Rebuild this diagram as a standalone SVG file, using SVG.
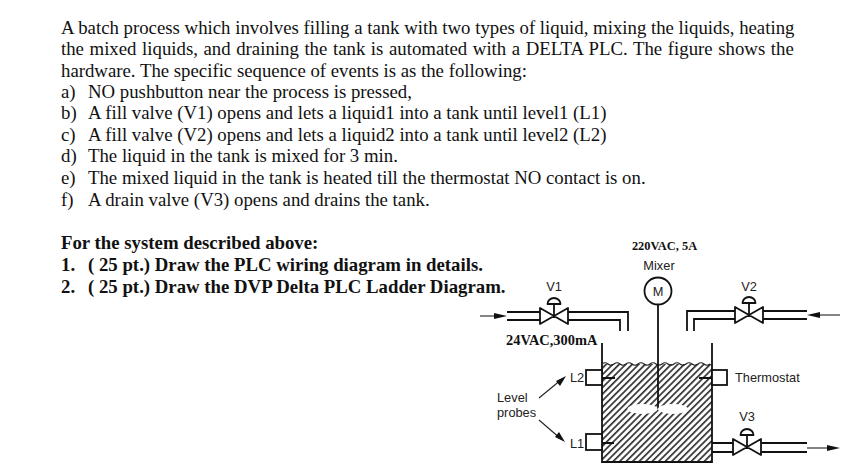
<svg xmlns="http://www.w3.org/2000/svg" width="865" height="470" viewBox="0 0 865 470">
<style>
.t{font:18.8px "Liberation Serif","Times New Roman",serif;fill:#111}
.b{font:bold 18.8px "Liberation Serif","Times New Roman",serif;fill:#111}
.sb{font:bold 12.4px "Liberation Serif","Times New Roman",serif;fill:#111}
.sc{font:bold 14.4px "Liberation Serif","Times New Roman",serif;fill:#111}
.s{font:12.8px "Liberation Sans",Arial,sans-serif;fill:#222}
.l{fill:none;stroke:#111;stroke-width:1.8}
.v{fill:#fff;stroke:#111;stroke-width:1.8;stroke-linejoin:round}
.a{fill:none;stroke:#222;stroke-width:1.1}
.h{fill:#111}
</style>
<defs>
<pattern id="hatch" width="4.600" height="4.600" patternUnits="userSpaceOnUse" patternTransform="rotate(-45)">
<rect width="4.600" height="4.600" fill="#fff"/>
<rect width="4.600" height="1.700" fill="#333"/>
</pattern>
<g id="valve">
<path class="v" d="M-14-8L0 0L-14 8ZM14-8L0 0L14 8Z"/>
<path class="l" d="M0 0V-12"/>
<path class="v" d="M-6.500-12a6.500 6 0 0 1 13 0Z"/>
</g>
</defs>
<g id="question">
<text class="t" x="61" y="34">A batch process which involves filling a tank with two types of liquid, mixing the liquids, heating</text>
<text class="t" x="61" y="55" word-spacing="0.9">the mixed liquids, and draining the tank is automated with a DELTA PLC. The figure shows the</text>
<text class="t" x="61" y="77">hardware. The specific sequence of events is as the following:</text>
<text class="t" x="61" y="98">a)</text><text class="t" x="88" y="98">NO pushbutton near the process is pressed,</text>
<text class="t" x="61" y="119">b)</text><text class="t" x="88" y="119">A fill valve (V1) opens and lets a liquid1 into a tank until level1 (L1)</text>
<text class="t" x="61" y="141">c)</text><text class="t" x="88" y="141">A fill valve (V2) opens and lets a liquid2 into a tank until level2 (L2)</text>
<text class="t" x="61" y="162">d)</text><text class="t" x="88" y="162">The liquid in the tank is mixed for 3 min.</text>
<text class="t" x="61" y="184">e)</text><text class="t" x="88" y="184">The mixed liquid in the tank is heated till the thermostat NO contact is on.</text>
<text class="t" x="61" y="206">f)</text><text class="t" x="88" y="206">A drain valve (V3) opens and drains the tank.</text>
<text class="b" x="61" y="249">For the system described above:</text>
<text class="b" x="61" y="271">1.</text><text class="b" x="88" y="271">( 25 pt.) Draw the PLC wiring diagram in details.</text>
<text class="b" x="61" y="293">2.</text><text class="b" x="88" y="293">( 25 pt.) Draw the DVP Delta PLC Ladder Diagram.</text>
</g>
<g id="tank">
<path d="M602 364H712V461H602Z" fill="url(#hatch)"/>
<path class="l" d="M602 343V462H712V343" stroke-width="2"/>
<path d="M602 364q3-2.500 6 0t6 0t6 0t6 0t6 0t6 0t6 0t6 0t6 0t6 0t6 0t6 0t6 0t6 0t6 0t6 0t6 0t6 0" fill="none" stroke="#222" stroke-width="1.200"/>
<path class="l" d="M602 378H615M602 443H614M699 378H712" stroke-width="1.200"/>
</g>
<g id="mixer">
<circle cx="658" cy="291" r="13.500" fill="#fff" stroke="#111" stroke-width="1.800"/>
<text class="s" x="658" y="295.500" text-anchor="middle">M</text>
<path class="l" d="M658 305V409"/>
<ellipse cx="642.500" cy="409" rx="15" ry="5" fill="#fff"/>
<ellipse cx="673" cy="409" rx="15" ry="5" fill="#fff"/>
<text class="sb" x="664.500" y="250" text-anchor="middle">220VAC, 5A</text>
<text class="s" x="659" y="270" text-anchor="middle">Mixer</text>
</g>
<g id="v1">
<use href="#valve" x="554" y="316"/>
<text class="s" x="554" y="291" text-anchor="middle">V1</text>
</g>
<g id="v2">
<use href="#valve" x="749" y="315"/>
<text class="s" x="749" y="291" text-anchor="middle">V2</text>
</g>
<g id="v3">
<use href="#valve" x="747" y="447"/>
<text class="s" x="747" y="421" text-anchor="middle">V3</text>
</g>
<g id="connectors">
<path class="l" d="M507 312H540M568 312H628V331M507 320H540M568 320H620V331"/>
<path class="l" d="M687 331V311H735M763 311H807M694 331V319H735M763 319H807"/>
<path class="l" d="M712 443H733M761 443H807M712 452H733M761 452H807"/>
<path class="a" d="M480 316H498"/><path class="h" d="M507 316L494 313V319Z"/>
<path class="a" d="M840 315H818"/><path class="h" d="M807 315L820 312V318Z"/>
<path class="a" d="M807 448H830"/><path class="h" d="M840 448L827 445V451Z"/>
<path class="a" d="M539 398L562 379"/><path class="h" d="M566 376L556 381L560 386Z"/>
<path class="a" d="M539 420L561 439"/><path class="h" d="M565 442L555 437L559 432Z"/>
</g>
<g id="l2"><rect x="586" y="370" width="16" height="15" fill="#fff" stroke="#111" stroke-width="1.800"/><text class="s" x="570" y="382">L2</text></g>
<g id="l1"><rect x="586" y="434" width="16" height="16" fill="#fff" stroke="#111" stroke-width="1.800"/><text class="s" x="570" y="448">L1</text></g>
<g id="thermostat"><rect x="712" y="370" width="15" height="15" fill="#fff" stroke="#111" stroke-width="1.800"/><text class="s" x="735" y="382">Thermostat</text></g>
<g id="labels">
<text class="s" x="497" y="402">Level</text>
<text class="s" x="497" y="417">probes</text>
<text class="sc" x="506" y="345">24VAC,300mA</text>
</g>
</svg>
